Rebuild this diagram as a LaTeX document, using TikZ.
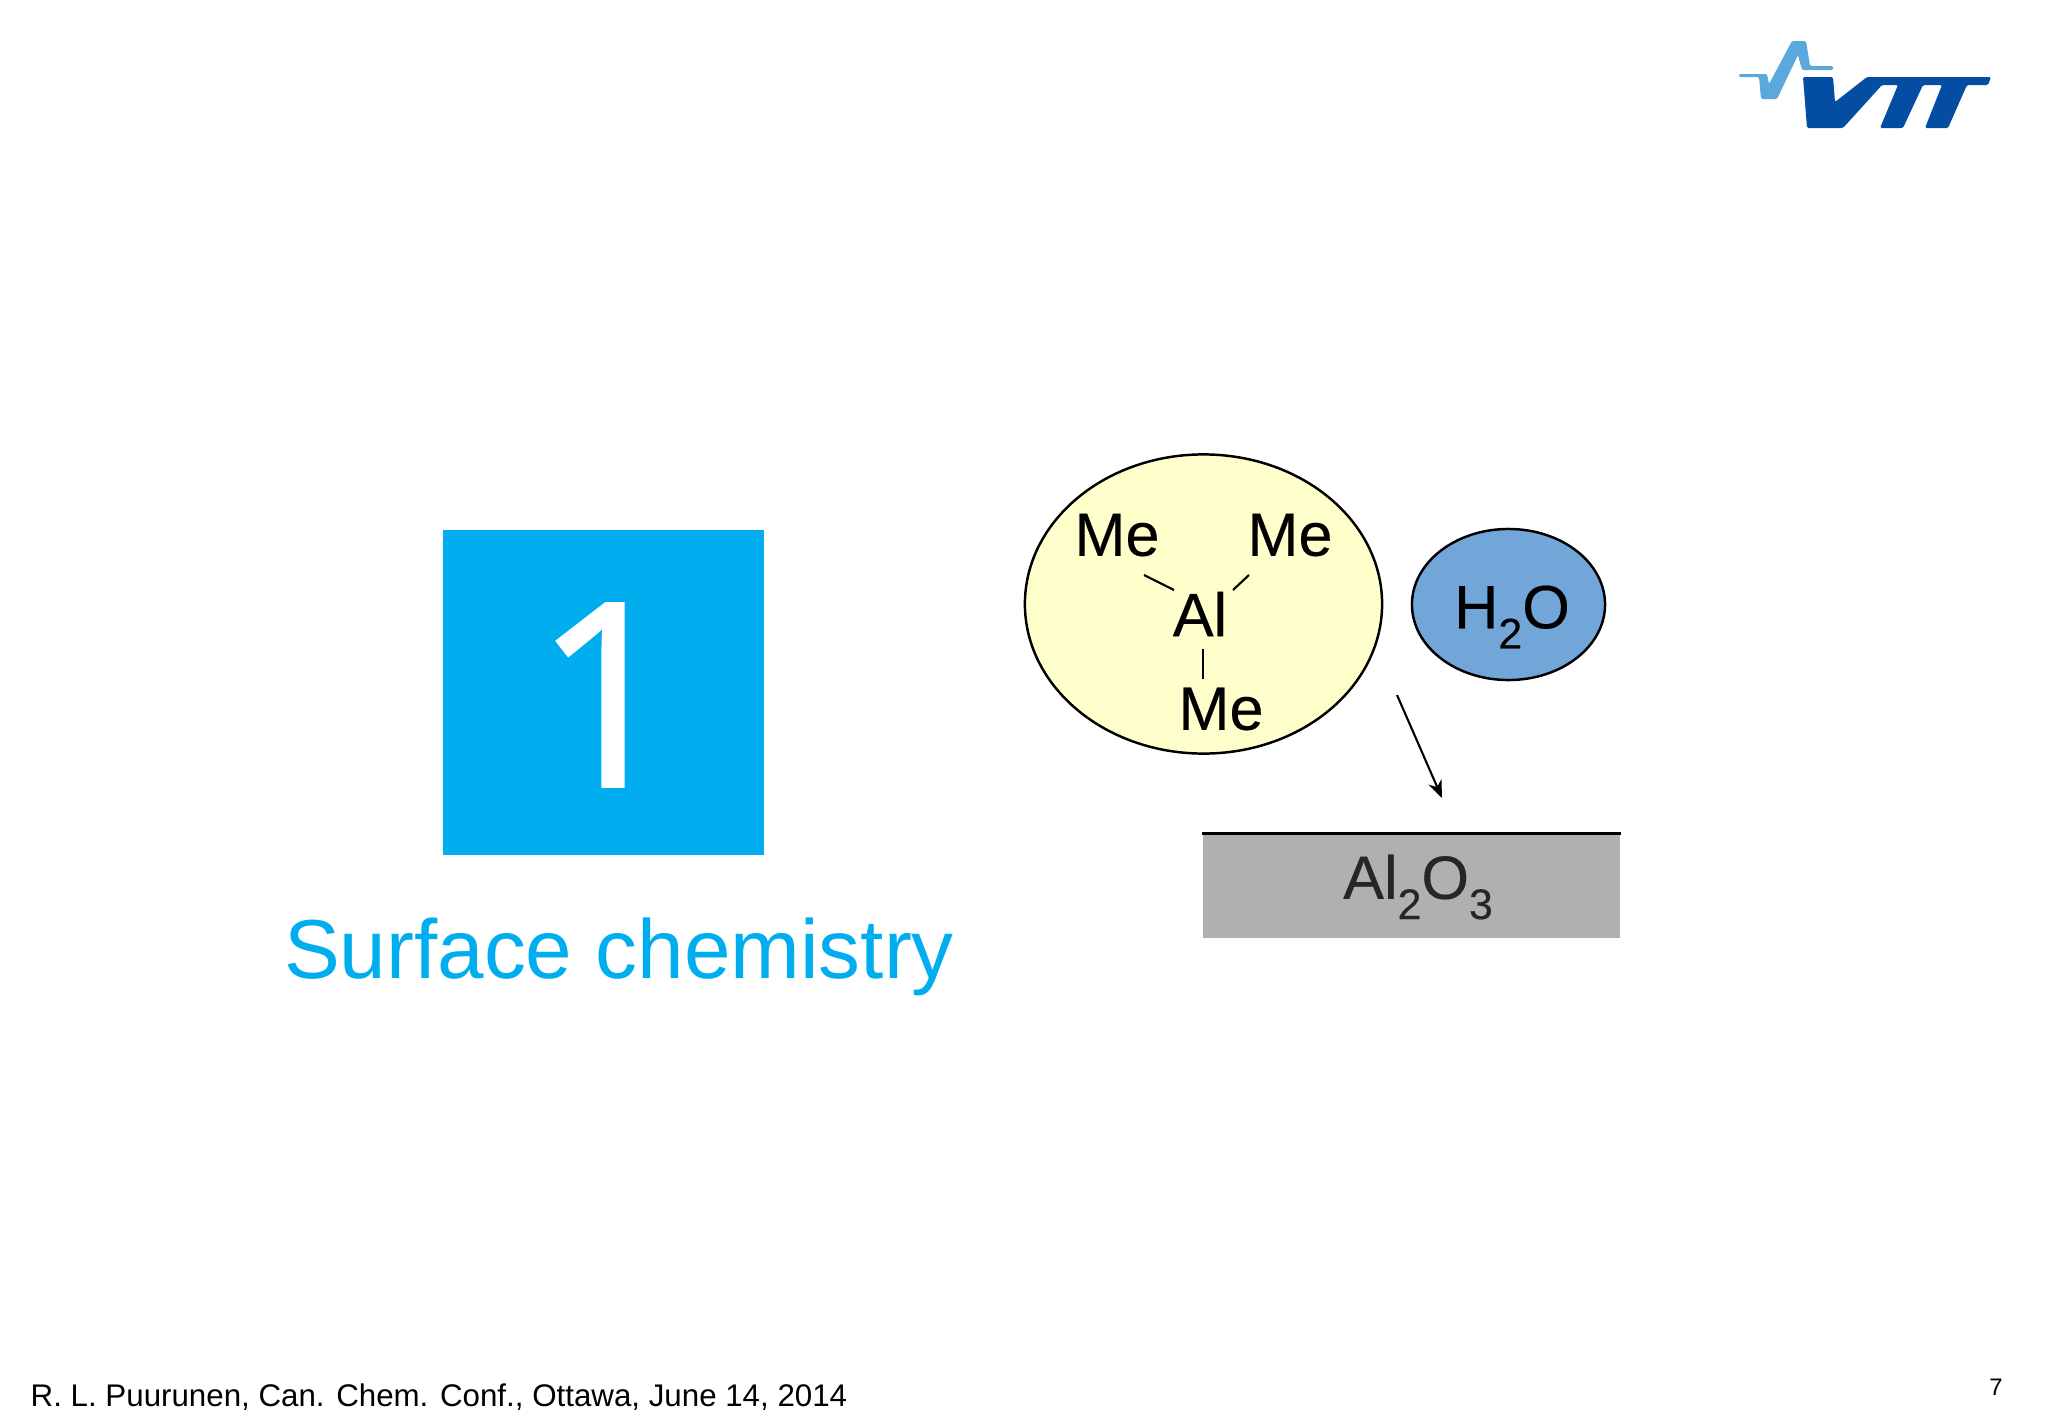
\documentclass[tikz,border=0pt]{standalone}
\usepackage{fontspec}
\setmainfont{Liberation Sans}
\newfontfamily\numfont[FakeBold=1.2]{Open Sans}
\newfontfamily\chemfont[FakeBold=0.3]{Liberation Sans}
\usetikzlibrary{shapes.geometric, arrows.meta}
\definecolor{slidecyan}{HTML}{00AEEF}
\definecolor{molyellow}{HTML}{FFFFCC}
\definecolor{molblue}{HTML}{72A6D9}
\definecolor{surfgray}{HTML}{B1AFB2}
\definecolor{vttdark}{HTML}{034EA2}
\definecolor{vttlight}{HTML}{5BA8DC}
\newcommand{\chemsub}[1]{\raisebox{-0.33em}{\scalebox{0.7}{#1}}}
\begin{document}
\begin{tikzpicture}[
        x=0.01cm, y=-0.01cm,
        molecule/.style={ellipse, draw=black, line width=0.7pt, inner sep=0pt},
        chem/.style={inner sep=0pt, font=\chemfont\fontsize{17.4}{20}\selectfont},
        bond/.style={line width=0.6pt},
        ]
        \useasboundingbox (0,0) rectangle (2048,1418);

        % left part
        \node (numbox) at (603.5,692.5) [fill=slidecyan, minimum width=3.21cm, minimum height=3.25cm, inner sep=0pt] {};
        \node (numtext) at (607,695) [text=white, inner sep=0pt, font=\numfont\fontsize{72.7}{80}\selectfont] {1};
        \node (title) at (619,957) [text=slidecyan, inner sep=0pt, font=\fontsize{23.8}{28}\selectfont] {Surface chemistry};

        % molecules
        \node (tma) at (1203.5,604) [molecule, fill=molyellow, minimum width=3.57cm, minimum height=2.99cm] {};
        \node (water) at (1508.5,604.5) [molecule, fill=molblue, minimum width=1.93cm, minimum height=1.51cm] {};
        \node (meleft) at (1117,535) [chem] {Me};
        \node (meright) at (1290,535) [chem] {Me};
        \node (al) at (1200,614) [chem] {Al};
        \node (mebottom) at (1221,709) [chem] {Me};
        \node (waterlabel) at (1512,617) [chem] {H\chemsub{2}O};

        \coordinate (bondla) at (1144,575);
        \coordinate (bondlb) at (1174,590);
        \coordinate (bondra) at (1249,575);
        \coordinate (bondrb) at (1233,590);
        \coordinate (bondba) at (1203,649);
        \coordinate (bondbb) at (1203,679);
        \draw[bond] (bondla) -- (bondlb);
        \draw[bond] (bondra) -- (bondrb);
        \draw[bond] (bondba) -- (bondbb);

        % surface
        \node (surface) at (1411.5,886) [fill=surfgray, minimum width=4.17cm, minimum height=1.04cm, inner sep=0pt] {};
        \draw[line width=0.7pt] (surface.north west) -- (surface.north east);
        \node (surfacelabel) at (1418,887) [chem, text=black!85] {Al\chemsub{2}O\chemsub{3}};

        \coordinate (arrowstart) at (1397,695);
        \coordinate (arrowend) at (1442,798);
        \draw[-{Stealth[length=5pt, width=4pt]}, line width=0.6pt] (arrowstart) -- (arrowend);

        % logo
        \fill[vttlight, rounded corners=0.4pt] (1739,74) -- (1767,74) -- (1769,84) -- (1792,41) -- (1806,41) -- (1810,66)
            -- (1833,66) -- (1833,70) -- (1802,70) -- (1798,55) -- (1777,99) -- (1761,99) -- (1759,77) -- (1739,77) -- cycle;
        \fill[vttdark, rounded corners=0.4pt] (1803,77) -- (1833,77) -- (1835,102) -- (1867,77) -- (1991,77) -- (1988,85)
            -- (1967,85) -- (1948,128) -- (1925,128) -- (1942,85) -- (1923,85) -- (1903,128) -- (1880,128)
            -- (1898,85) -- (1882,85) -- (1843,128) -- (1807,128) -- cycle;

        % footer
        \node (footer) at (30,1397) [anchor=west, inner sep=0pt, font=\fontsize{8.9}{11}\selectfont] {R. L. Puurunen, Can. Chem. Conf., Ottawa, June 14, 2014};
        \node (pagenum) at (1996,1387) [inner sep=0pt, font=\fontsize{6.8}{8}\selectfont] {7};
\end{tikzpicture}
\end{document}
